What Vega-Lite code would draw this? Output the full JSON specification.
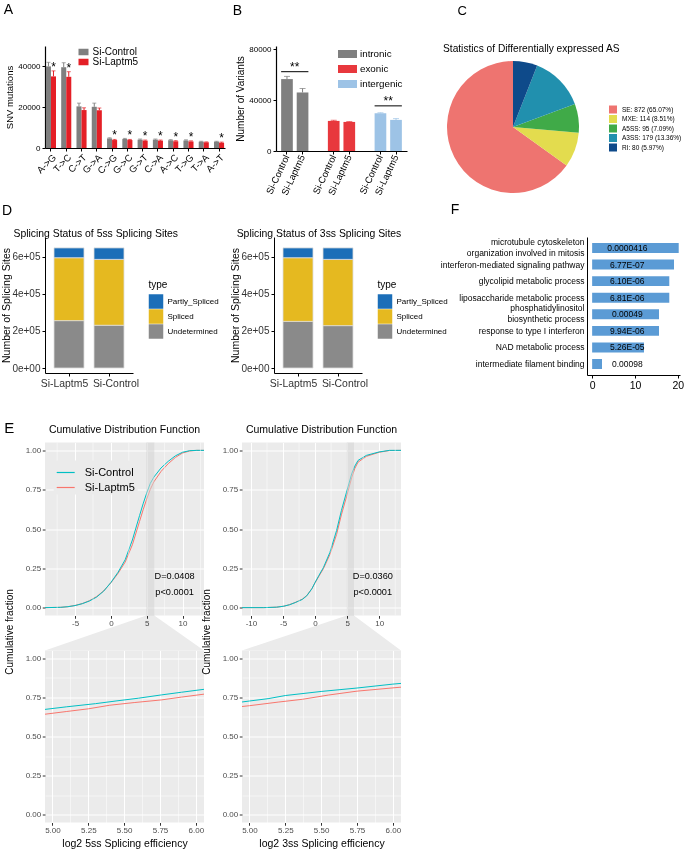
{
  "$schema": "https://vega.github.io/schema/vega-lite/v6.json",
  "padding": {"left": 1, "top": 3, "right": 0, "bottom": 0},
  "background": "white",
  "config": {
    "font": "Liberation Sans",
    "view": {"stroke": null},
    "axis": {"labelColor": "black", "titleColor": "black", "domainColor": "black", "tickColor": "black", "titleFontWeight": "normal", "grid": false, "labelFont": "Liberation Sans", "titleFont": "Liberation Sans", "labelOverlap": false},
    "legend": {"labelColor": "black", "titleColor": "black", "titleFontWeight": "normal", "labelFont": "Liberation Sans", "titleFont": "Liberation Sans"},
    "title": {"fontWeight": "normal", "color": "black", "subtitleColor": "black", "font": "Liberation Sans", "subtitleFont": "Liberation Sans"},
    "text": {"font": "Liberation Sans"}
  },
  "datasets": {
    "cdf5top": [
      {"sample": "Si-Laptm5", "x": -9.2, "y": 0}, {"sample": "Si-Laptm5", "x": -7, "y": 0.002}, {"sample": "Si-Laptm5", "x": -6, "y": 0.006}, {"sample": "Si-Laptm5", "x": -5, "y": 0.014}, {"sample": "Si-Laptm5", "x": -4, "y": 0.026}, {"sample": "Si-Laptm5", "x": -3, "y": 0.044}, {"sample": "Si-Laptm5", "x": -2, "y": 0.07}, {"sample": "Si-Laptm5", "x": -1, "y": 0.107}, {"sample": "Si-Laptm5", "x": 0, "y": 0.158}, {"sample": "Si-Laptm5", "x": 1, "y": 0.218}, {"sample": "Si-Laptm5", "x": 2, "y": 0.29}, {"sample": "Si-Laptm5", "x": 3, "y": 0.4}, {"sample": "Si-Laptm5", "x": 4, "y": 0.548}, {"sample": "Si-Laptm5", "x": 4.5, "y": 0.622}, {"sample": "Si-Laptm5", "x": 5, "y": 0.69}, {"sample": "Si-Laptm5", "x": 5.5, "y": 0.752}, {"sample": "Si-Laptm5", "x": 6, "y": 0.8}, {"sample": "Si-Laptm5", "x": 7, "y": 0.866}, {"sample": "Si-Laptm5", "x": 8, "y": 0.915}, {"sample": "Si-Laptm5", "x": 9, "y": 0.955}, {"sample": "Si-Laptm5", "x": 10, "y": 0.983}, {"sample": "Si-Laptm5", "x": 11, "y": 0.996}, {"sample": "Si-Laptm5", "x": 12, "y": 1}, {"sample": "Si-Laptm5", "x": 13, "y": 1},
      {"sample": "Si-Control", "x": -9.2, "y": 0}, {"sample": "Si-Control", "x": -7, "y": 0.002}, {"sample": "Si-Control", "x": -6, "y": 0.006}, {"sample": "Si-Control", "x": -5, "y": 0.013}, {"sample": "Si-Control", "x": -4, "y": 0.025}, {"sample": "Si-Control", "x": -3, "y": 0.042}, {"sample": "Si-Control", "x": -2, "y": 0.067}, {"sample": "Si-Control", "x": -1, "y": 0.105}, {"sample": "Si-Control", "x": 0, "y": 0.16}, {"sample": "Si-Control", "x": 1, "y": 0.225}, {"sample": "Si-Control", "x": 2, "y": 0.305}, {"sample": "Si-Control", "x": 3, "y": 0.43}, {"sample": "Si-Control", "x": 4, "y": 0.585}, {"sample": "Si-Control", "x": 4.5, "y": 0.66}, {"sample": "Si-Control", "x": 5, "y": 0.728}, {"sample": "Si-Control", "x": 5.5, "y": 0.79}, {"sample": "Si-Control", "x": 6, "y": 0.83}, {"sample": "Si-Control", "x": 7, "y": 0.888}, {"sample": "Si-Control", "x": 8, "y": 0.93}, {"sample": "Si-Control", "x": 9, "y": 0.965}, {"sample": "Si-Control", "x": 10, "y": 0.988}, {"sample": "Si-Control", "x": 11, "y": 0.998}, {"sample": "Si-Control", "x": 12, "y": 1}, {"sample": "Si-Control", "x": 13, "y": 1}
    ],
    "cdf3top": [
      {"sample": "Si-Laptm5", "x": -11.4, "y": 0}, {"sample": "Si-Laptm5", "x": -8, "y": 0}, {"sample": "Si-Laptm5", "x": -6, "y": 0.003}, {"sample": "Si-Laptm5", "x": -4.9, "y": 0.009}, {"sample": "Si-Laptm5", "x": -4, "y": 0.019}, {"sample": "Si-Laptm5", "x": -3.1, "y": 0.033}, {"sample": "Si-Laptm5", "x": -2, "y": 0.054}, {"sample": "Si-Laptm5", "x": -1.3, "y": 0.077}, {"sample": "Si-Laptm5", "x": -0.5, "y": 0.12}, {"sample": "Si-Laptm5", "x": 0, "y": 0.158}, {"sample": "Si-Laptm5", "x": 0.6, "y": 0.2}, {"sample": "Si-Laptm5", "x": 1.3, "y": 0.248}, {"sample": "Si-Laptm5", "x": 2.3, "y": 0.337}, {"sample": "Si-Laptm5", "x": 3.35, "y": 0.465}, {"sample": "Si-Laptm5", "x": 4.1, "y": 0.59}, {"sample": "Si-Laptm5", "x": 4.9, "y": 0.705}, {"sample": "Si-Laptm5", "x": 5.7, "y": 0.825}, {"sample": "Si-Laptm5", "x": 6.2, "y": 0.885}, {"sample": "Si-Laptm5", "x": 6.7, "y": 0.925}, {"sample": "Si-Laptm5", "x": 8, "y": 0.962}, {"sample": "Si-Laptm5", "x": 10, "y": 0.988}, {"sample": "Si-Laptm5", "x": 11.6, "y": 0.999}, {"sample": "Si-Laptm5", "x": 13.4, "y": 1},
      {"sample": "Si-Control", "x": -11.4, "y": 0}, {"sample": "Si-Control", "x": -8, "y": 0}, {"sample": "Si-Control", "x": -6, "y": 0.003}, {"sample": "Si-Control", "x": -4.9, "y": 0.009}, {"sample": "Si-Control", "x": -4, "y": 0.018}, {"sample": "Si-Control", "x": -3.1, "y": 0.032}, {"sample": "Si-Control", "x": -2, "y": 0.052}, {"sample": "Si-Control", "x": -1.3, "y": 0.075}, {"sample": "Si-Control", "x": -0.5, "y": 0.12}, {"sample": "Si-Control", "x": 0, "y": 0.16}, {"sample": "Si-Control", "x": 0.6, "y": 0.205}, {"sample": "Si-Control", "x": 1.3, "y": 0.255}, {"sample": "Si-Control", "x": 2.3, "y": 0.35}, {"sample": "Si-Control", "x": 3.35, "y": 0.49}, {"sample": "Si-Control", "x": 4.1, "y": 0.617}, {"sample": "Si-Control", "x": 4.9, "y": 0.734}, {"sample": "Si-Control", "x": 5.7, "y": 0.85}, {"sample": "Si-Control", "x": 6.2, "y": 0.9}, {"sample": "Si-Control", "x": 6.7, "y": 0.936}, {"sample": "Si-Control", "x": 8, "y": 0.968}, {"sample": "Si-Control", "x": 10, "y": 0.99}, {"sample": "Si-Control", "x": 11.6, "y": 1}, {"sample": "Si-Control", "x": 13.4, "y": 1}
    ],
    "cdf5zoom": [
      {"sample": "Si-Laptm5", "x": 4.9, "y": 0.637}, {"sample": "Si-Laptm5", "x": 5.1, "y": 0.66}, {"sample": "Si-Laptm5", "x": 5.25, "y": 0.677}, {"sample": "Si-Laptm5", "x": 5.4, "y": 0.7}, {"sample": "Si-Laptm5", "x": 5.57, "y": 0.717}, {"sample": "Si-Laptm5", "x": 5.76, "y": 0.734}, {"sample": "Si-Laptm5", "x": 5.9, "y": 0.752}, {"sample": "Si-Laptm5", "x": 6.1, "y": 0.776},
      {"sample": "Si-Control", "x": 4.9, "y": 0.668}, {"sample": "Si-Control", "x": 5.1, "y": 0.69}, {"sample": "Si-Control", "x": 5.3, "y": 0.71}, {"sample": "Si-Control", "x": 5.45, "y": 0.728}, {"sample": "Si-Control", "x": 5.6, "y": 0.745}, {"sample": "Si-Control", "x": 5.76, "y": 0.766}, {"sample": "Si-Control", "x": 5.9, "y": 0.783}, {"sample": "Si-Control", "x": 6.1, "y": 0.807}
    ],
    "cdf3zoom": [
      {"sample": "Si-Laptm5", "x": 4.9, "y": 0.687}, {"sample": "Si-Laptm5", "x": 5.0, "y": 0.697}, {"sample": "Si-Laptm5", "x": 5.2, "y": 0.72}, {"sample": "Si-Laptm5", "x": 5.37, "y": 0.738}, {"sample": "Si-Laptm5", "x": 5.55, "y": 0.765}, {"sample": "Si-Laptm5", "x": 5.75, "y": 0.79}, {"sample": "Si-Laptm5", "x": 6.05, "y": 0.815}, {"sample": "Si-Laptm5", "x": 6.1, "y": 0.818},
      {"sample": "Si-Control", "x": 4.9, "y": 0.715}, {"sample": "Si-Control", "x": 5.0, "y": 0.727}, {"sample": "Si-Control", "x": 5.13, "y": 0.742}, {"sample": "Si-Control", "x": 5.25, "y": 0.762}, {"sample": "Si-Control", "x": 5.5, "y": 0.788}, {"sample": "Si-Control", "x": 5.75, "y": 0.81}, {"sample": "Si-Control", "x": 6.0, "y": 0.835}, {"sample": "Si-Control", "x": 6.1, "y": 0.843}
    ],
    "guide5": [
      {"x": -9.2, "y": -0.2725, "y2": -0.2725}, {"x": 4.948, "y": -0.2725, "y2": -0.05}, {"x": 6.057, "y": -0.2725, "y2": -0.05}, {"x": 13.0, "y": -0.2725, "y2": -0.2725}
    ],
    "guide3": [
      {"x": -11.4, "y": -0.2725, "y2": -0.2725}, {"x": 4.948, "y": -0.2725, "y2": -0.05}, {"x": 6.057, "y": -0.2725, "y2": -0.05}, {"x": 13.4, "y": -0.2725, "y2": -0.2725}
    ]
  },
  "resolve": {"scale": {"color": "independent"}, "legend": {"color": "independent"}},
  "spacing": 29.5,
  "vconcat": [
    {
      "spacing": -5,
      "resolve": {"scale": {"color": "independent"}, "legend": {"color": "independent"}},
      "vconcat": [
        {
          "spacing": 36,
          "resolve": {"scale": {"color": "independent"}, "legend": {"color": "independent"}},
          "hconcat": [
            {
              "spacing": 6,
              "resolve": {"scale": {"color": "independent"}, "legend": {"color": "independent"}},
              "hconcat": [
                {
                  "title": {"text": "A", "anchor": "start", "frame": "bounds", "fontSize": 14, "offset": 29, "dx": -1},
                  "width": 180, "height": 102,
                  "data": {"values": [
                    {"mutation": "A->G", "sample": "Si-Control", "value": 40000, "hi": 42000},
                    {"mutation": "A->G", "sample": "Si-Laptm5", "value": 35100, "hi": 37800, "sig": "*"},
                    {"mutation": "T->C", "sample": "Si-Control", "value": 39600, "hi": 41800},
                    {"mutation": "T->C", "sample": "Si-Laptm5", "value": 34900, "hi": 37400, "sig": "*"},
                    {"mutation": "C->T", "sample": "Si-Control", "value": 20400, "hi": 22000},
                    {"mutation": "C->T", "sample": "Si-Laptm5", "value": 18600, "hi": 19700},
                    {"mutation": "G->A", "sample": "Si-Control", "value": 20200, "hi": 22000},
                    {"mutation": "G->A", "sample": "Si-Laptm5", "value": 18500, "hi": 19600},
                    {"mutation": "C->G", "sample": "Si-Control", "value": 4700, "hi": 5000},
                    {"mutation": "C->G", "sample": "Si-Laptm5", "value": 3900, "hi": 4200, "sig": "*"},
                    {"mutation": "G->C", "sample": "Si-Control", "value": 4400, "hi": 4700},
                    {"mutation": "G->C", "sample": "Si-Laptm5", "value": 3900, "hi": 4200, "sig": "*"},
                    {"mutation": "G->T", "sample": "Si-Control", "value": 4100, "hi": 4400},
                    {"mutation": "G->T", "sample": "Si-Laptm5", "value": 3600, "hi": 3900, "sig": "*"},
                    {"mutation": "C->A", "sample": "Si-Control", "value": 4100, "hi": 4400},
                    {"mutation": "C->A", "sample": "Si-Laptm5", "value": 3600, "hi": 3900, "sig": "*"},
                    {"mutation": "A->C", "sample": "Si-Control", "value": 3800, "hi": 4100},
                    {"mutation": "A->C", "sample": "Si-Laptm5", "value": 3300, "hi": 3600, "sig": "*"},
                    {"mutation": "T->G", "sample": "Si-Control", "value": 3700, "hi": 4000},
                    {"mutation": "T->G", "sample": "Si-Laptm5", "value": 3200, "hi": 3500, "sig": "*"},
                    {"mutation": "T->A", "sample": "Si-Control", "value": 3100, "hi": 3300},
                    {"mutation": "T->A", "sample": "Si-Laptm5", "value": 2800, "hi": 3000},
                    {"mutation": "A->T", "sample": "Si-Control", "value": 3100, "hi": 3300},
                    {"mutation": "A->T", "sample": "Si-Laptm5", "value": 2600, "hi": 2900, "sig": "*"}
                  ]},
                  "encoding": {
                    "x": {"field": "mutation", "type": "nominal", "sort": null, "title": null,
                      "scale": {"paddingInner": 0.34, "paddingOuter": 0.06},
                      "axis": {"labelAngle": -45, "labelFontSize": 9.5, "tickSize": 3, "labelPadding": 1, "domainWidth": 1.2}},
                    "xOffset": {"field": "sample", "type": "nominal", "sort": ["Si-Control", "Si-Laptm5"]}
                  },
                  "layer": [
                    {"mark": {"type": "bar"},
                     "encoding": {
                       "y": {"field": "value", "type": "quantitative", "title": "SNV mutations", "scale": {"domain": [0, 50000], "nice": false},
                         "axis": {"values": [0, 10000, 20000, 30000, 40000, 50000], "format": "d", "labelFontSize": 8, "titleFontSize": 9.5, "tickSize": 3, "titlePadding": 3, "domainWidth": 1.2}},
                       "color": {"field": "sample", "type": "nominal", "scale": {"domain": ["Si-Control", "Si-Laptm5"], "range": ["#7F7F7F", "#E41F26"]},
                         "legend": {"title": null, "orient": "none", "legendX": 33.5, "legendY": 1, "symbolType": "M-1,-0.65H1V0.65H-1Z", "symbolSize": 100, "labelFontSize": 10, "rowPadding": -3, "labelOffset": 4, "padding": 0, "symbolStrokeWidth": 0}}
                     }},
                    {"mark": {"type": "rule", "strokeWidth": 1},
                     "encoding": {"y": {"field": "value", "type": "quantitative"}, "y2": {"field": "hi"}, "color": {"field": "sample", "type": "nominal", "legend": null}}},
                    {"mark": {"type": "tick", "thickness": 1, "size": 4},
                     "encoding": {"y": {"field": "hi", "type": "quantitative"}, "color": {"field": "sample", "type": "nominal", "legend": null}}},
                    {"transform": [{"filter": "isValid(datum.sig)"}],
                     "mark": {"type": "text", "fontSize": 12, "baseline": "alphabetic", "color": "black"},
                     "encoding": {"y": {"field": "hi", "type": "quantitative"}, "text": {"field": "sig"}}}
                  ]
                },
                {
                  "title": {"text": "B", "anchor": "start", "frame": "bounds", "fontSize": 14, "offset": 27, "dx": -3},
                  "width": 131, "height": 105,
                  "layer": [
                    {
                      "data": {"values": [
                        {"region": "intronic", "sample": "Si-Control", "bar": "intronic|Si-Control", "value": 56400, "hi": 58500},
                        {"region": "intronic", "sample": "Si-Laptm5", "bar": "intronic|Si-Laptm5", "value": 45900, "hi": 49000},
                        {"region": "exonic", "sample": "Si-Control", "bar": "exonic|Si-Control", "value": 23600, "hi": 24100},
                        {"region": "exonic", "sample": "Si-Laptm5", "bar": "exonic|Si-Laptm5", "value": 22800, "hi": 23100},
                        {"region": "intergenic", "sample": "Si-Control", "bar": "intergenic|Si-Control", "value": 29600, "hi": 30000},
                        {"region": "intergenic", "sample": "Si-Laptm5", "bar": "intergenic|Si-Laptm5", "value": 24400, "hi": 25400}
                      ]},
                      "encoding": {
                        "x": {"field": "bar", "type": "nominal", "title": null,
                          "scale": {"domain": ["intronic|Si-Control", "intronic|Si-Laptm5", "gap1", "exonic|Si-Control", "exonic|Si-Laptm5", "gap2", "intergenic|Si-Control", "intergenic|Si-Laptm5"], "paddingInner": 0.25, "paddingOuter": 0.33},
                          "axis": {"values": ["intronic|Si-Control", "intronic|Si-Laptm5", "exonic|Si-Control", "exonic|Si-Laptm5", "intergenic|Si-Control", "intergenic|Si-Laptm5"], "labelExpr": "split(datum.value, '|')[1]", "labelAngle": -65, "labelFontSize": 9.5, "tickSize": 3, "labelPadding": 1, "domainWidth": 1.2}}
                      },
                      "layer": [
                        {"mark": {"type": "bar"},
                         "encoding": {
                           "y": {"field": "value", "type": "quantitative", "title": "Number of Variants", "scale": {"domain": [0, 82353], "nice": false},
                             "axis": {"values": [0, 20000, 40000, 60000, 80000], "format": "d", "labelFontSize": 8, "titleFontSize": 10, "tickSize": 3, "titlePadding": 3, "domainWidth": 1.2}},
                           "color": {"field": "region", "type": "nominal", "scale": {"domain": ["intronic", "exonic", "intergenic"], "range": ["#7F7F7F", "#E8383D", "#9DC3E6"]},
                             "legend": {"title": null, "orient": "none", "legendX": 62, "legendY": -1.5, "symbolType": "M-1,-0.42H1V0.42H-1Z", "symbolSize": 361, "labelFontSize": 9.8, "rowPadding": -7.5, "labelOffset": 3, "padding": 0, "symbolStrokeWidth": 0}}
                         }},
                        {"mark": {"type": "rule", "strokeWidth": 1},
                         "encoding": {"y": {"field": "value", "type": "quantitative"}, "y2": {"field": "hi"}, "color": {"field": "region", "type": "nominal", "legend": null}}},
                        {"mark": {"type": "tick", "thickness": 1, "size": 6},
                         "encoding": {"y": {"field": "hi", "type": "quantitative"}, "color": {"field": "region", "type": "nominal", "legend": null}}}
                      ]
                    },
                    {
                      "data": {"values": [
                        {"from": "intronic|Si-Control", "to": "intronic|Si-Laptm5", "level": 62200, "label": "**"},
                        {"from": "intergenic|Si-Control", "to": "intergenic|Si-Laptm5", "level": 35400, "label": "**"}
                      ]},
                      "layer": [
                        {"mark": {"type": "rule", "strokeWidth": 1, "color": "black"},
                         "encoding": {"x": {"field": "from", "type": "nominal", "bandPosition": 0, "title": null}, "x2": {"field": "to", "bandPosition": 1}, "y": {"field": "level", "type": "quantitative"}}},
                        {"mark": {"type": "text", "fontSize": 12, "baseline": "alphabetic", "dx": -2, "dy": -1, "color": "black"},
                         "encoding": {"x": {"field": "to", "type": "nominal", "bandPosition": 0, "title": null}, "y": {"field": "level", "type": "quantitative"}, "text": {"field": "label"}}}
                      ]
                    }
                  ]
                }
              ]
            },
            {
              "title": {"text": "\u200b\u00a0\u00a0\u00a0\u00a0C", "subtitle": "Statistics of Differentially expressed AS", "anchor": "start", "frame": "bounds", "fontSize": 13, "subtitleFontSize": 10.2, "subtitlePadding": 26, "offset": -8},
              "width": 140, "height": 162,
              "data": {"values": [
                {"type": "SE", "count": 872, "rank": 1, "label": "SE: 872 (65.07%)"},
                {"type": "MXE", "count": 114, "rank": 2, "label": "MXE: 114 (8.51%)"},
                {"type": "A5SS", "count": 95, "rank": 3, "label": "A5SS: 95 (7.09%)"},
                {"type": "A3SS", "count": 179, "rank": 4, "label": "A3SS: 179 (13.36%)"},
                {"type": "RI", "count": 80, "rank": 5, "label": "RI: 80 (5.97%)"}
              ]},
              "mark": {"type": "arc", "outerRadius": 66},
              "encoding": {
                "theta": {"field": "count", "type": "quantitative", "stack": true, "scale": {"range": [6.2832, 0]}},
                "order": {"field": "rank", "type": "quantitative", "sort": "ascending"},
                "color": {"field": "label", "type": "nominal",
                  "sort": ["SE: 872 (65.07%)", "MXE: 114 (8.51%)", "A5SS: 95 (7.09%)", "A3SS: 179 (13.36%)", "RI: 80 (5.97%)"],
                  "scale": {"domain": ["SE: 872 (65.07%)", "MXE: 114 (8.51%)", "A5SS: 95 (7.09%)", "A3SS: 179 (13.36%)", "RI: 80 (5.97%)"], "range": ["#EE7470", "#E3DC4E", "#40AA48", "#2190AE", "#0E4A8A"]},
                  "legend": {"title": null, "orient": "none", "legendX": 166, "legendY": 59.5, "symbolType": "square", "symbolSize": 64, "labelFontSize": 6.5, "rowPadding": 1.5, "labelOffset": 5, "padding": 0, "symbolStrokeWidth": 0}}
              }
            }
          ]
        },
        {
          "spacing": -9,
          "resolve": {"scale": {"color": "independent"}, "legend": {"color": "independent"}},
          "hconcat": [
            {
              "spacing": 10,
              "resolve": {"scale": {"color": "independent"}, "legend": {"color": "independent"}},
              "hconcat": [
                {
                  "title": {"text": "D", "subtitle": "\u200b\u00a0\u00a0\u00a0\u00a0Splicing Status of 5ss Splicing Sites", "anchor": "start", "frame": "bounds", "fontSize": 14, "subtitleFontSize": 10.4, "subtitlePadding": 11, "offset": -2},
                  "width": 88, "height": 136,
                  "data": {"values": [
                    {"sample": "Si-Laptm5", "type": "Undetermined", "count": 256000},
                    {"sample": "Si-Laptm5", "type": "Spliced", "count": 340000},
                    {"sample": "Si-Laptm5", "type": "Partly_Spliced", "count": 53000},
                    {"sample": "Si-Control", "type": "Undetermined", "count": 231000},
                    {"sample": "Si-Control", "type": "Spliced", "count": 356000},
                    {"sample": "Si-Control", "type": "Partly_Spliced", "count": 62000}
                  ]},
                  "mark": {"type": "bar", "stroke": "#DDDDDD", "strokeWidth": 0.8},
                  "encoding": {
                    "x": {"field": "sample", "type": "nominal", "sort": ["Si-Laptm5", "Si-Control"], "title": null, "scale": {"paddingInner": 0.25, "paddingOuter": 0.225},
                      "axis": {"labelAngle": 0, "labelFontSize": 10.4, "labelColor": "#333333", "tickSize": 3, "labelPadding": 2, "labelOffset": {"condition": {"test": "datum.value === 'Si-Laptm5'", "value": -4.5}, "value": 7}}},
                    "y": {"field": "count", "type": "quantitative", "stack": "zero", "title": "Number of Splicing Sites", "scale": {"domain": [-27000, 708000], "nice": false, "zero": false},
                      "axis": {"values": [0, 200000, 400000, 600000], "labelExpr": "datum.value === 0 ? '0e+00' : format(datum.value / 100000, 'd') + 'e+05'", "labelFontSize": 10, "labelColor": "#333333", "titleFontSize": 10.5, "tickSize": 3, "labelPadding": 2, "titlePadding": 0}},
                    "color": {"field": "type", "type": "nominal", "scale": {"domain": ["Partly_Spliced", "Spliced", "Undetermined"], "range": ["#1B6EB8", "#E5B920", "#8A8A8A"]},
                      "legend": {"title": "type", "orient": "none", "legendX": 103.5, "legendY": 43, "symbolType": "square", "symbolSize": 210, "titleFontSize": 10, "titlePadding": 4, "labelFontSize": 8, "rowPadding": 0, "labelOffset": 4, "padding": 0, "symbolStrokeWidth": 0}},
                    "order": {"field": "type", "sort": "descending"}
                  }
                },
                {
                  "title": {"text": "\u00a0", "subtitle": "\u200b\u00a0\u00a0Splicing Status of 3ss Splicing Sites", "anchor": "start", "frame": "bounds", "fontSize": 14, "subtitleFontSize": 10.4, "subtitlePadding": 11, "offset": -2},
                  "width": 88, "height": 136,
                  "data": {"values": [
                    {"sample": "Si-Laptm5", "type": "Undetermined", "count": 252000},
                    {"sample": "Si-Laptm5", "type": "Spliced", "count": 344000},
                    {"sample": "Si-Laptm5", "type": "Partly_Spliced", "count": 53000},
                    {"sample": "Si-Control", "type": "Undetermined", "count": 229000},
                    {"sample": "Si-Control", "type": "Spliced", "count": 358000},
                    {"sample": "Si-Control", "type": "Partly_Spliced", "count": 62000}
                  ]},
                  "mark": {"type": "bar", "stroke": "#DDDDDD", "strokeWidth": 0.8},
                  "encoding": {
                    "x": {"field": "sample", "type": "nominal", "sort": ["Si-Laptm5", "Si-Control"], "title": null, "scale": {"paddingInner": 0.25, "paddingOuter": 0.225},
                      "axis": {"labelAngle": 0, "labelFontSize": 10.4, "labelColor": "#333333", "tickSize": 3, "labelPadding": 2, "labelOffset": {"condition": {"test": "datum.value === 'Si-Laptm5'", "value": -4.5}, "value": 7}}},
                    "y": {"field": "count", "type": "quantitative", "stack": "zero", "title": "Number of Splicing Sites", "scale": {"domain": [-27000, 708000], "nice": false, "zero": false},
                      "axis": {"values": [0, 200000, 400000, 600000], "labelExpr": "datum.value === 0 ? '0e+00' : format(datum.value / 100000, 'd') + 'e+05'", "labelFontSize": 10, "labelColor": "#333333", "titleFontSize": 10.5, "tickSize": 3, "labelPadding": 2, "titlePadding": 0}},
                    "color": {"field": "type", "type": "nominal", "scale": {"domain": ["Partly_Spliced", "Spliced", "Undetermined"], "range": ["#1B6EB8", "#E5B920", "#8A8A8A"]},
                      "legend": {"title": "type", "orient": "none", "legendX": 103.5, "legendY": 43, "symbolType": "square", "symbolSize": 210, "titleFontSize": 10, "titlePadding": 4, "labelFontSize": 8, "rowPadding": 0, "labelOffset": 4, "padding": 0, "symbolStrokeWidth": 0}},
                    "order": {"field": "type", "sort": "descending"}
                  }
                }
              ]
            },
            {
              "title": {"text": "F", "anchor": "start", "frame": "bounds", "fontSize": 14, "offset": 20, "dx": 10.5},
              "width": 93, "height": 138,
              "data": {"values": [
                {"term": "microtubule cytoskeleton\norganization involved in mitosis", "score": 20.2, "pvalue": "0.0000416"},
                {"term": "interferon-mediated signaling pathway", "score": 19.1, "pvalue": "6.77E-07"},
                {"term": "glycolipid metabolic process", "score": 18.0, "pvalue": "6.10E-06"},
                {"term": "liposaccharide metabolic process", "score": 18.0, "pvalue": "6.81E-06"},
                {"term": "phosphatidylinositol\nbiosynthetic process", "score": 15.6, "pvalue": "0.00049"},
                {"term": "response to type I interferon", "score": 15.6, "pvalue": "9.94E-06"},
                {"term": "NAD metabolic process", "score": 12.1, "pvalue": "5.26E-05"},
                {"term": "intermediate filament binding", "score": 2.3, "pvalue": "0.00098"}
              ]},
              "encoding": {
                "y": {"field": "term", "type": "nominal", "sort": null, "title": null, "scale": {"paddingInner": 0.4, "paddingOuter": 0.36},
                  "axis": {"labelExpr": "split(datum.label, '\\n')", "labelFontSize": 8.5, "labelLimit": 300, "ticks": false, "labelPadding": 3, "labelLineHeight": 10.6,
                    "labelOffset": {"condition": {"test": "indexof(datum.value, '\\n') >= 0", "value": -6}, "value": 0}}}
              },
              "layer": [
                {"mark": {"type": "bar", "color": "#5B9BD5"},
                 "encoding": {"x": {"field": "score", "type": "quantitative", "title": null, "scale": {"domain": [-1.2, 20.5], "nice": false, "zero": false},
                   "axis": {"values": [0, 5, 10, 15, 20], "labelFontSize": 10.5, "tickSize": 3, "labelFlush": false}},
                   "x2": {"datum": 0}}},
                {"mark": {"type": "text", "fontSize": 8.5, "align": "center", "baseline": "middle", "color": "black"},
                 "encoding": {"x": {"datum": 8.2, "type": "quantitative"}, "text": {"field": "pvalue"}}}
              ]
            }
          ]
        }
      ]
    },
    {
      "title": {"text": "E", "anchor": "start", "frame": "bounds", "fontSize": 15, "offset": -11},
      "spacing": -3,
      "resolve": {"scale": {"color": "independent"}, "legend": {"color": "independent"}},
      "hconcat": [
        {
          "bounds": "flush",
          "spacing": 35,
          "resolve": {"scale": {"color": "independent"}, "legend": {"color": "independent"}},
          "vconcat": [
            {
              "title": {"text": "Cumulative Distribution Function", "fontSize": 10.5, "offset": 7, "anchor": "middle"},
              "width": 159, "height": 173,
              "view": {"fill": "#EBEBEB", "stroke": null},
              "resolve": {"axis": {"x": "independent"}},
              "layer": [
                {"data": {"name": "cdf5top"},
                 "mark": {"type": "line", "strokeWidth": 1, "clip": true},
                 "encoding": {
                   "x": {"field": "x", "type": "quantitative", "title": null, "scale": {"domain": [-9.2, 13.0], "nice": false, "zero": false},
                     "axis": {"orient": "bottom", "values": [-5, 0, 5, 10], "labelExpr": "toString(datum.value)", "grid": true, "gridColor": "white", "gridWidth": 1.1, "domain": false, "tickColor": "#333333", "tickSize": 2.75, "labelColor": "#4D4D4D", "labelFontSize": 8, "labelPadding": 1.5, "labelOverlap": false, "labelFlush": false}},
                   "y": {"field": "y", "type": "quantitative", "title": null, "scale": {"domain": [-0.05, 1.05], "nice": false, "zero": false},
                     "axis": {"values": [0, 0.125, 0.25, 0.375, 0.5, 0.625, 0.75, 0.875, 1], "labelExpr": "datum.value * 4 % 1 === 0 ? format(datum.value, '.2f') : ''", "grid": true, "gridColor": "white", "gridWidth": {"condition": {"test": "datum.value * 4 % 1 === 0", "value": 1.1}, "value": 0.5}, "tickOpacity": {"condition": {"test": "datum.value * 4 % 1 === 0", "value": 1}, "value": 0}, "domain": false, "tickColor": "#333333", "tickSize": 2.75, "labelColor": "#4D4D4D", "labelFontSize": 8, "labelPadding": 1.5, "labelOverlap": false}},
                   "color": {"field": "sample", "type": "nominal", "scale": {"domain": ["Si-Control", "Si-Laptm5"], "range": ["#00BFC4", "#F8766D"]},
                     "legend": {"title": null, "orient": "none", "legendX": 8.7, "legendY": 18, "symbolType": "stroke", "symbolSize": 324, "symbolStrokeWidth": 1.2, "labelFontSize": 11, "rowPadding": -4, "labelOffset": 9, "padding": 2, "fillColor": "#EBEBEB"}}
                 }},
                {"data": {"values": [{}]}, "mark": {"type": "rule", "color": "white", "strokeWidth": 0.5}, "encoding": {"x": {"datum": -7.5, "type": "quantitative", "axis": null}}},
                {"data": {"values": [{}]}, "mark": {"type": "rule", "color": "white", "strokeWidth": 0.5}, "encoding": {"x": {"datum": -2.5, "type": "quantitative", "axis": null}}},
                {"data": {"values": [{}]}, "mark": {"type": "rule", "color": "white", "strokeWidth": 0.5}, "encoding": {"x": {"datum": 2.5, "type": "quantitative", "axis": null}}},
                {"data": {"values": [{}]}, "mark": {"type": "rule", "color": "white", "strokeWidth": 0.5}, "encoding": {"x": {"datum": 7.5, "type": "quantitative", "axis": null}}},
                {"data": {"values": [{}]}, "mark": {"type": "rule", "color": "white", "strokeWidth": 0.5}, "encoding": {"x": {"datum": 12.5, "type": "quantitative", "axis": null}}},
                {"data": {"values": [{}]},
                 "mark": {"type": "rect", "color": "#D4D4D4", "opacity": 0.55},
                 "encoding": {"x": {"datum": 4.948, "type": "quantitative", "axis": null}, "x2": {"datum": 6.057}, "y": {"datum": -0.05, "type": "quantitative"}, "y2": {"datum": 1.05}}},
                {"data": {"values": [{}]},
                 "mark": {"type": "text", "text": "D=0.0408", "fontSize": 9.2, "color": "black"},
                 "encoding": {"x": {"datum": 8.9, "type": "quantitative", "axis": null}, "y": {"datum": 0.2, "type": "quantitative"}}},
                {"data": {"values": [{}]},
                 "mark": {"type": "text", "text": "p<0.0001", "fontSize": 9.2, "color": "black"},
                 "encoding": {"x": {"datum": 8.9, "type": "quantitative", "axis": null}, "y": {"datum": 0.1, "type": "quantitative"}}},
                {"data": {"name": "guide5"},
                 "mark": {"type": "area", "color": "#EBEBEB", "blend": "multiply"},
                 "encoding": {"x": {"field": "x", "type": "quantitative", "title": null, "axis": null}, "y": {"field": "y", "type": "quantitative", "title": null}, "y2": {"field": "y2"}}}
              ]
            },
            {
              "width": 159, "height": 172,
              "view": {"fill": "#EBEBEB", "stroke": null},
              "data": {"name": "cdf5zoom"},
              "mark": {"type": "line", "strokeWidth": 1, "clip": true},
              "encoding": {
                "x": {"field": "x", "type": "quantitative", "title": "log2 5ss Splicing efficiency", "scale": {"domain": [4.948, 6.057], "nice": false, "zero": false},
                  "axis": {"values": [5, 5.125, 5.25, 5.375, 5.5, 5.625, 5.75, 5.875, 6], "labelExpr": "datum.value * 4 % 1 === 0 ? format(datum.value, '.2f') : ''", "grid": true, "gridColor": "white", "gridWidth": {"condition": {"test": "datum.value * 4 % 1 === 0", "value": 1.1}, "value": 0.5}, "tickOpacity": {"condition": {"test": "datum.value * 4 % 1 === 0", "value": 1}, "value": 0}, "domain": false, "tickColor": "#333333", "tickSize": 2.75, "labelColor": "#4D4D4D", "labelFontSize": 8, "labelPadding": 1.5, "labelOverlap": false, "labelFlush": false, "titleFontSize": 10.5, "titlePadding": 4}},
                "y": {"field": "y", "type": "quantitative", "title": "Cumulative fraction", "scale": {"domain": [-0.05, 1.05], "nice": false, "zero": false},
                  "axis": {"values": [0, 0.125, 0.25, 0.375, 0.5, 0.625, 0.75, 0.875, 1], "labelExpr": "datum.value * 4 % 1 === 0 ? format(datum.value, '.2f') : ''", "grid": true, "gridColor": "white", "gridWidth": {"condition": {"test": "datum.value * 4 % 1 === 0", "value": 1.1}, "value": 0.5}, "tickOpacity": {"condition": {"test": "datum.value * 4 % 1 === 0", "value": 1}, "value": 0}, "domain": false, "tickColor": "#333333", "tickSize": 2.75, "labelColor": "#4D4D4D", "labelFontSize": 8, "labelPadding": 1.5, "labelOverlap": false, "titleFontSize": 10, "titlePadding": 11, "titleY": -19}},
                "color": {"field": "sample", "type": "nominal", "scale": {"domain": ["Si-Control", "Si-Laptm5"], "range": ["#00BFC4", "#F8766D"]}, "legend": null}
              }
            }
          ]
        },
        {
          "bounds": "flush",
          "spacing": 35,
          "resolve": {"scale": {"color": "independent"}, "legend": {"color": "independent"}},
          "vconcat": [
            {
              "title": {"text": "Cumulative Distribution Function", "fontSize": 10.5, "offset": 7, "anchor": "middle"},
              "width": 159, "height": 173,
              "view": {"fill": "#EBEBEB", "stroke": null},
              "resolve": {"axis": {"x": "independent"}},
              "layer": [
                {"data": {"name": "cdf3top"},
                 "mark": {"type": "line", "strokeWidth": 1, "clip": true},
                 "encoding": {
                   "x": {"field": "x", "type": "quantitative", "title": null, "scale": {"domain": [-11.4, 13.4], "nice": false, "zero": false},
                     "axis": {"orient": "bottom", "values": [-10, -5, 0, 5, 10], "labelExpr": "toString(datum.value)", "grid": true, "gridColor": "white", "gridWidth": 1.1, "domain": false, "tickColor": "#333333", "tickSize": 2.75, "labelColor": "#4D4D4D", "labelFontSize": 8, "labelPadding": 1.5, "labelOverlap": false, "labelFlush": false}},
                   "y": {"field": "y", "type": "quantitative", "title": null, "scale": {"domain": [-0.05, 1.05], "nice": false, "zero": false},
                     "axis": {"values": [0, 0.125, 0.25, 0.375, 0.5, 0.625, 0.75, 0.875, 1], "labelExpr": "datum.value * 4 % 1 === 0 ? format(datum.value, '.2f') : ''", "grid": true, "gridColor": "white", "gridWidth": {"condition": {"test": "datum.value * 4 % 1 === 0", "value": 1.1}, "value": 0.5}, "tickOpacity": {"condition": {"test": "datum.value * 4 % 1 === 0", "value": 1}, "value": 0}, "domain": false, "tickColor": "#333333", "tickSize": 2.75, "labelColor": "#4D4D4D", "labelFontSize": 8, "labelPadding": 1.5, "labelOverlap": false}},
                   "color": {"field": "sample", "type": "nominal", "scale": {"domain": ["Si-Control", "Si-Laptm5"], "range": ["#00BFC4", "#F8766D"]}, "legend": null}
                 }},
                {"data": {"values": [{}]}, "mark": {"type": "rule", "color": "white", "strokeWidth": 0.5}, "encoding": {"x": {"datum": -7.5, "type": "quantitative", "axis": null}}},
                {"data": {"values": [{}]}, "mark": {"type": "rule", "color": "white", "strokeWidth": 0.5}, "encoding": {"x": {"datum": -2.5, "type": "quantitative", "axis": null}}},
                {"data": {"values": [{}]}, "mark": {"type": "rule", "color": "white", "strokeWidth": 0.5}, "encoding": {"x": {"datum": 2.5, "type": "quantitative", "axis": null}}},
                {"data": {"values": [{}]}, "mark": {"type": "rule", "color": "white", "strokeWidth": 0.5}, "encoding": {"x": {"datum": 7.5, "type": "quantitative", "axis": null}}},
                {"data": {"values": [{}]}, "mark": {"type": "rule", "color": "white", "strokeWidth": 0.5}, "encoding": {"x": {"datum": 12.5, "type": "quantitative", "axis": null}}},
                {"data": {"values": [{}]},
                 "mark": {"type": "rect", "color": "#D4D4D4", "opacity": 0.55},
                 "encoding": {"x": {"datum": 4.948, "type": "quantitative", "axis": null}, "x2": {"datum": 6.057}, "y": {"datum": -0.05, "type": "quantitative"}, "y2": {"datum": 1.05}}},
                {"data": {"values": [{}]},
                 "mark": {"type": "text", "text": "D=0.0360", "fontSize": 9.2, "color": "black"},
                 "encoding": {"x": {"datum": 9.0, "type": "quantitative", "axis": null}, "y": {"datum": 0.2, "type": "quantitative"}}},
                {"data": {"values": [{}]},
                 "mark": {"type": "text", "text": "p<0.0001", "fontSize": 9.2, "color": "black"},
                 "encoding": {"x": {"datum": 9.0, "type": "quantitative", "axis": null}, "y": {"datum": 0.1, "type": "quantitative"}}},
                {"data": {"name": "guide3"},
                 "mark": {"type": "area", "color": "#EBEBEB", "blend": "multiply"},
                 "encoding": {"x": {"field": "x", "type": "quantitative", "title": null, "axis": null}, "y": {"field": "y", "type": "quantitative", "title": null}, "y2": {"field": "y2"}}}
              ]
            },
            {
              "width": 159, "height": 172,
              "view": {"fill": "#EBEBEB", "stroke": null},
              "data": {"name": "cdf3zoom"},
              "mark": {"type": "line", "strokeWidth": 1, "clip": true},
              "encoding": {
                "x": {"field": "x", "type": "quantitative", "title": "log2 3ss Splicing efficiency", "scale": {"domain": [4.948, 6.057], "nice": false, "zero": false},
                  "axis": {"values": [5, 5.125, 5.25, 5.375, 5.5, 5.625, 5.75, 5.875, 6], "labelExpr": "datum.value * 4 % 1 === 0 ? format(datum.value, '.2f') : ''", "grid": true, "gridColor": "white", "gridWidth": {"condition": {"test": "datum.value * 4 % 1 === 0", "value": 1.1}, "value": 0.5}, "tickOpacity": {"condition": {"test": "datum.value * 4 % 1 === 0", "value": 1}, "value": 0}, "domain": false, "tickColor": "#333333", "tickSize": 2.75, "labelColor": "#4D4D4D", "labelFontSize": 8, "labelPadding": 1.5, "labelOverlap": false, "labelFlush": false, "titleFontSize": 10.5, "titlePadding": 4}},
                "y": {"field": "y", "type": "quantitative", "title": "Cumulative fraction", "scale": {"domain": [-0.05, 1.05], "nice": false, "zero": false},
                  "axis": {"values": [0, 0.125, 0.25, 0.375, 0.5, 0.625, 0.75, 0.875, 1], "labelExpr": "datum.value * 4 % 1 === 0 ? format(datum.value, '.2f') : ''", "grid": true, "gridColor": "white", "gridWidth": {"condition": {"test": "datum.value * 4 % 1 === 0", "value": 1.1}, "value": 0.5}, "tickOpacity": {"condition": {"test": "datum.value * 4 % 1 === 0", "value": 1}, "value": 0}, "domain": false, "tickColor": "#333333", "tickSize": 2.75, "labelColor": "#4D4D4D", "labelFontSize": 8, "labelPadding": 1.5, "labelOverlap": false, "titleFontSize": 10, "titlePadding": 11, "titleY": -19}},
                "color": {"field": "sample", "type": "nominal", "scale": {"domain": ["Si-Control", "Si-Laptm5"], "range": ["#00BFC4", "#F8766D"]}, "legend": null}
              }
            }
          ]
        }
      ]
    }
  ]
}
